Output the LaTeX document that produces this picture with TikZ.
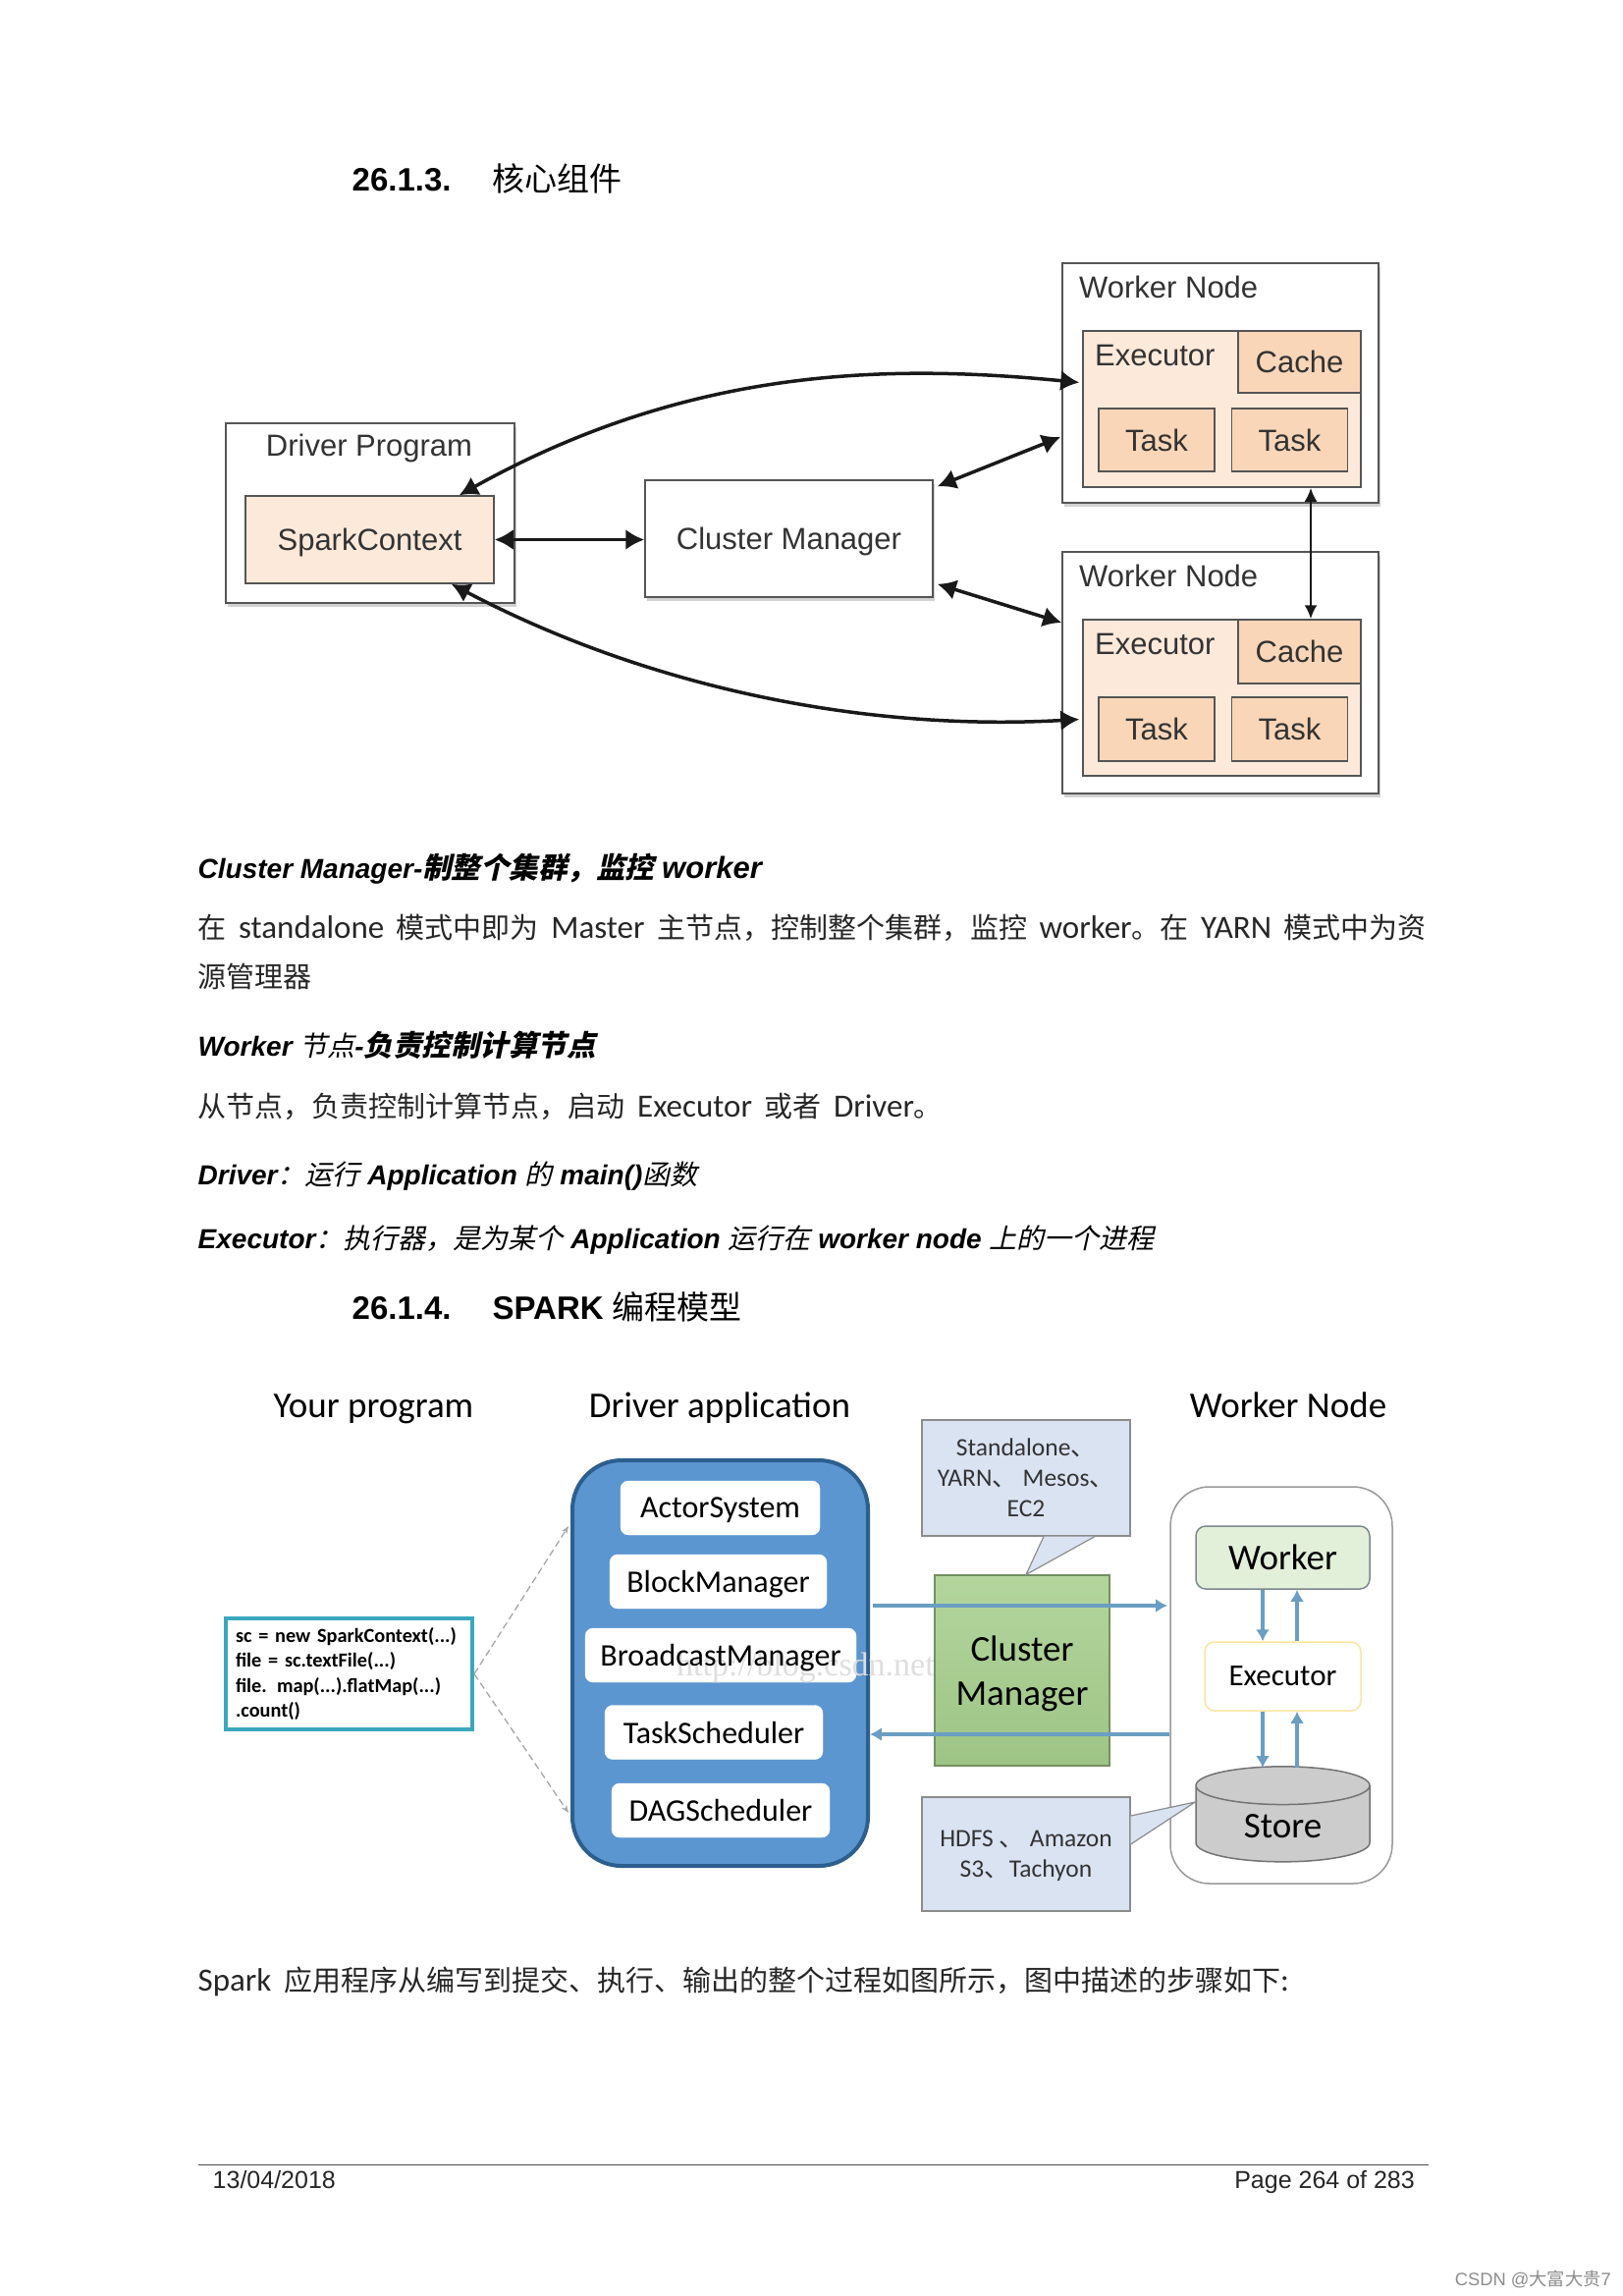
\documentclass[tikz,border=0pt]{standalone}
\usepackage{fontspec}
\setmainfont{Liberation Sans}
\newfontfamily\calfont{Carlito}
\newfontfamily\stampfont{Liberation Serif}
\newfontfamily\cjk{Noto Sans CJK SC}
\newfontfamily\cjkit[FakeSlant=0.22,BoldFeatures={FakeSlant=0.22}]{Noto Sans CJK SC}
\newcommand{\zh}[1]{{\mdseries\cjk #1}}
\newcommand{\zc}[1]{{\cjk\fontsize{29}{29}\selectfont #1}}
\newcommand{\zi}[1]{{\mdseries\cjkit #1}}
\newcommand{\zb}[1]{{\bfseries\cjkit\fontsize{29.5}{29.5}\selectfont #1}}
\usetikzlibrary{arrows.meta,shapes,shapes.geometric,shadows,positioning}
\definecolor{exec orange}{HTML}{FDE9DA}
\definecolor{task orange}{HTML}{F9D6B8}
\definecolor{frame grey}{HTML}{555555}
\definecolor{code teal}{HTML}{3BA7BF}
\definecolor{driver blue}{HTML}{5B96D0}
\definecolor{driver edge}{HTML}{2C5F8E}
\definecolor{flow blue}{HTML}{6A9EC2}
\definecolor{callout blue}{HTML}{DAE3F2}
\definecolor{manager green}{HTML}{A6CE8C}
\definecolor{worker green}{HTML}{E2EFD9}

\begin{document}
\begin{tikzpicture}
    [x=1pt, y=-1pt,
    on grid,
    outer/.style = {draw=frame grey, fill=white, line width=1.5pt,
      drop shadow={shadow xshift=2pt, shadow yshift=-4pt, opacity=.18, fill=black}},
    executor/.style = {draw=frame grey, fill=exec orange, line width=1.5pt},
    inner box/.style = {draw=frame grey, fill=task orange, line width=1.5pt, text=black!80, font=\fontsize{31}{31}\selectfont},
    caption/.style = {text=black!80, inner sep=0pt, font=\fontsize{31}{31}\selectfont},
    title/.style = {anchor=base, inner sep=0pt, font=\calfont\fontsize{37}{37}\selectfont},
    heading/.style = {anchor=base west, inner sep=0pt, font=\bfseries\fontsize{33}{33}\selectfont},
    body/.style = {anchor=base west, inner sep=0pt, text=black!85, font=\calfont\fontsize{33}{33}\selectfont,
      execute at begin node={\spaceskip=12.5pt\relax}},
    note/.style = {anchor=base west, inner sep=0pt, font=\bfseries\itshape\fontsize{28}{28}\selectfont},
    module/.style = {draw=white, fill=white, rounded corners=8pt, minimum height=55pt, text depth=0pt, font=\calfont\fontsize{32}{32}\selectfont},
    bubble/.style = {draw=black!45, fill=callout blue, line width=1.2pt, align=center, text depth=0pt,
      minimum width=212pt, text=black!80, font=\calfont\fontsize{25.5}{31}\selectfont},
    tip edge/.style = {draw=black!45, line width=1.2pt},
    post/.style = {{Latex[length=19pt,width=21pt]}-{Latex[length=19pt,width=21pt]}, line width=3.5pt, black!90},
    thin post/.style = {{Latex[length=14pt,width=13pt]}-{Latex[length=14pt,width=13pt]}, line width=2.5pt, black!90},
    flow/.style = {-{Latex[length=12pt,width=14pt]}, line width=4.5pt, flow blue},
    guess/.style = {-{Stealth[length=8pt,width=6pt]}, dash pattern=on 7pt off 4pt, line width=1.3pt, black!35}]

    \useasboundingbox (0,0) rectangle (1653,2338);

    \node [heading] (HeadA) at (358.5,194) {26.1.3.\hspace{42pt}\zh{核心组件}};

    % first picture
    \node [outer, minimum width=294pt, minimum height=183pt] (Driver) at (377,522.5) {};
    \node [executor, minimum width=253pt, minimum height=89pt, text depth=0pt, font=\fontsize{31}{31}\selectfont, text=black!80] (Spark) at (376.5,549.5) {SparkContext};
    \node [caption] (DriverText) at (376,456) {Driver Program};
    \node [outer, minimum width=293pt, minimum height=119pt, text depth=0pt, font=\fontsize{31}{31}\selectfont, text=black!80] (Manager) at (803.5,548.5) {Cluster Manager};

    \node [outer, minimum width=322pt, minimum height=244pt] (WorkerA) at (1243,390) {};
    \node [executor, minimum width=283pt, minimum height=159pt] (ExecA) at (1244.5,416.5) {};
    \node [inner box, minimum width=125pt, minimum height=63pt] (CacheA) at (1323.5,368.5) {Cache};
    \node [inner box, minimum width=118pt, minimum height=64pt] (TaskA) at (1178,448) {Task};
    \node [inner box, minimum width=118pt, minimum height=64pt] (TaskB) [right=135.5pt of TaskA] {Task};
    \node [caption, anchor=west] (WorkerTextA) at (1099,292) {Worker Node};
    \node [caption, anchor=west] (ExecTextA) at (1115,362) {Executor};

    \node [outer, minimum width=322pt, minimum height=246pt] (WorkerB) [below=295pt of WorkerA] {};
    \node [executor, minimum width=283pt, minimum height=159pt] (ExecB) [below=294pt of ExecA] {};
    \node [inner box, minimum width=125pt, minimum height=65pt] (CacheB) [below=295pt of CacheA] {Cache};
    \node [inner box, minimum width=118pt, minimum height=65pt] (TaskC) [below=294.5pt of TaskA] {Task};
    \node [inner box, minimum width=118pt, minimum height=65pt] (TaskD) [right=135.5pt of TaskC] {Task};
    \node [caption, anchor=west] (WorkerTextB) at (1099,586) {Worker Node};
    \node [caption, anchor=west] (ExecTextB) at (1115,656) {Executor};

    \draw [post] (Spark.east) -- (Spark.east -| Manager.west);
    \draw [post] ([shift={(4,7)}]Manager.north east) -- ([shift={(-1,55)}]WorkerA.west);
    \draw [post] ([shift={(4,-14)}]Manager.south east) -- ([shift={(0,-51)}]WorkerB.west);
    \draw [thin post] (ExecA.south -| 1335,0) -- (CacheB.north -| 1335,0);
    \draw [post] ([xshift=-36pt]Spark.north east) .. controls (700,375) and (900,370) .. ([xshift=-3pt,yshift=27pt]ExecA.west);
    \draw [post] ([xshift=-44pt]Spark.south east) .. controls (660,700) and (880,745) .. ([xshift=-3pt,yshift=-22pt]ExecB.west);

    % text between the pictures
    \node [note] (NoteA) at (201.5,894) {Cluster Manager-\zb{制整个集群，监控} {\fontsize{31}{31}\selectfont worker}};
    \node [body] (TextA) at (201.5,955) {\zc{在} standalone \zc{模式中即为} Master \zc{主节点，控制整个集群，监控} worker\zc{。在} YARN \zc{模式中为资}};
    \node [body] (TextB) at (201.5,1005) {\zc{源管理器}};
    \node [note] (NoteB) at (201.5,1075) {Worker \zi{节点}-\zb{负责控制计算节点}};
    \node [body] (TextC) at (201.5,1137) {\zc{从节点，负责控制计算节点，启动} Executor \zc{或者} Driver\zc{。}};
    \node [note] (NoteC) at (201.5,1206) {Driver\zi{：运行} Application \zi{的} main()\zi{函数}};
    \node [note] (NoteD) at (201.5,1271) {Executor\zi{：执行器，是为某个} Application \zi{运行在} worker node \zi{上的一个进程}};
    \node [heading] (HeadB) at (358.5,1343.5) {26.1.4.\hspace{42pt}SPARK \zh{编程模型}};

    % second picture
    \node [title] (YourText) at (380.5,1443) {Your program};
    \node [title] (AppText) at (733,1443) {Driver application};
    \node [title] (NodeText) at (1312,1443) {Worker Node};

    \node [draw=code teal, fill=white, line width=4pt, minimum width=251pt, minimum height=113pt,
      align=left, inner sep=0pt, text width=231pt, font=\calfont\bfseries\fontsize{20.3}{25.5}\selectfont] (Code) at (355.5,1704.5)
      {sc = new SparkContext(...)\\file = sc.textFile(...)\\file. map(...).flatMap(...)\\.count()};

    \node [draw=driver edge, fill=driver blue, line width=4pt, rounded corners=50pt, minimum width=301pt, minimum height=413pt] (App) at (733.5,1693.5) {};
    \node [module, minimum width=203pt] (Actor) at (733.5,1535.5) {ActorSystem};
    \node [module, minimum width=221pt] (Block) at (731.5,1610.5) {BlockManager};
    \node [module, minimum width=276pt] (Broadcast) at (734,1685.5) {};
    \node [module, minimum width=222pt] (TaskSched) at (727,1764) {TaskScheduler};
    \node [module, minimum width=222pt] (Dag) at (734,1843.5) {DAGScheduler};

    \node [anchor=west, inner sep=0pt, text=black!13, font=\stampfont\fontsize{34}{34}\selectfont] (Stamp) at (689,1698) {http://blog.csdn.net};
    \node [module, draw=none, fill=none, minimum width=276pt] (BroadcastText) at (Broadcast) {BroadcastManager};

    \node [draw=black!30!manager green, top color=manager green!85!white, bottom color=manager green!95!black, line width=1.2pt, minimum width=178pt, minimum height=194pt, align=center, text depth=0pt,
      font=\calfont\fontsize{37}{45}\selectfont] (Cluster) at (1041,1701) {Cluster\\Manager};

    \node [bubble, minimum height=118pt] (Bubble) at (1045,1505) {Standalone\zh{、}\\YARN\zh{、} Mesos\zh{、}\\EC2};
    \fill [callout blue] ([xshift=18pt]Bubble.south) -- ([xshift=4pt]Cluster.north) -- ([xshift=70pt]Bubble.south) -- cycle;
    \draw [tip edge] ([xshift=18pt]Bubble.south) -- ([xshift=4pt]Cluster.north) -- ([xshift=70pt]Bubble.south);

    \node [bubble, minimum height=116pt] (Hdfs) at (1045,1888) {HDFS \zh{、} Amazon\\S3\zh{、}Tachyon};

    \node [draw=black!40, fill=white, line width=1.5pt, rounded corners=40pt, minimum width=226pt, minimum height=404pt] (Node) at (1305,1716) {};
    \node [draw=black!50!cyan!30!gray, fill=worker green, rounded corners=10pt, line width=1.5pt, minimum width=177pt, minimum height=64pt,
      font=\calfont\fontsize{37}{37}\selectfont] (Worker) at (1306.5,1586) {Worker};
    \node [draw=yellow!50!orange!35, fill=white, rounded corners=10pt, line width=1.5pt, minimum width=159pt, minimum height=70pt,
      font=\calfont\fontsize{31}{31}\selectfont] (Exec) at (1306.5,1707) {Executor};
    \node [shape=cylinder, shape border rotate=90, aspect=.45, draw=black!55, fill=black!20, line width=1.5pt, minimum width=177pt, minimum height=97pt,
      font=\calfont\fontsize{37}{37}\selectfont] (Store) at (1306.5,1860) {Store};

    \fill [callout blue] ([yshift=39pt]Hdfs.east) -- ([yshift=25pt]Store.west) -- ([yshift=10pt]Hdfs.east) -- cycle;
    \draw [tip edge] ([yshift=39pt]Hdfs.east) -- ([yshift=25pt]Store.west) -- ([yshift=10pt]Hdfs.east);

    \draw [guess] (Code.east) -- (579,1554);
    \draw [guess] (Code.east) -- (579,1846);
    \draw [flow] (App.east |- 0,1635) ++(3,0) -- (1189,1635);
    \draw [flow] (Node.west |- 0,1766) -- (886,1766);
    \draw [flow] (Worker.south -| 1286,0) -- (Exec.north -| 1286,0);
    \draw [flow] (Exec.north -| 1321,0) -- (Worker.south -| 1321,0);
    \draw [flow] (Exec.south -| 1286,0) -- (1286,1800);
    \draw [flow] (1321,1800) -- (Exec.south -| 1321,0);

    % page foot
    \draw [black!70, line width=1pt] (201.5,2204) coordinate (FootA) -- (1455,2204) coordinate (FootB);
    \node [anchor=base west, inner sep=0pt, text=black!85, font=\fontsize{25}{25}\selectfont] (Date) at (216.5,2228) {13/04/2018};
    \node [anchor=base east, inner sep=0pt, text=black!85, font=\fontsize{25}{25}\selectfont] (PageNo) at (1441,2228) {Page 264 of 283};
    \node [anchor=base east, inner sep=0pt, text=black!45, font=\fontsize{18.3}{18.3}\selectfont] (Mark) at (1641,2327) {CSDN @\zh{大富大贵}7};

    \node [body] (TextD) at (201.5,2027) {Spark \zc{应用程序从编写到提交、执行、输出的整个过程如图所示，图中描述的步骤如下}:};
  \end{tikzpicture}
\end{document}
